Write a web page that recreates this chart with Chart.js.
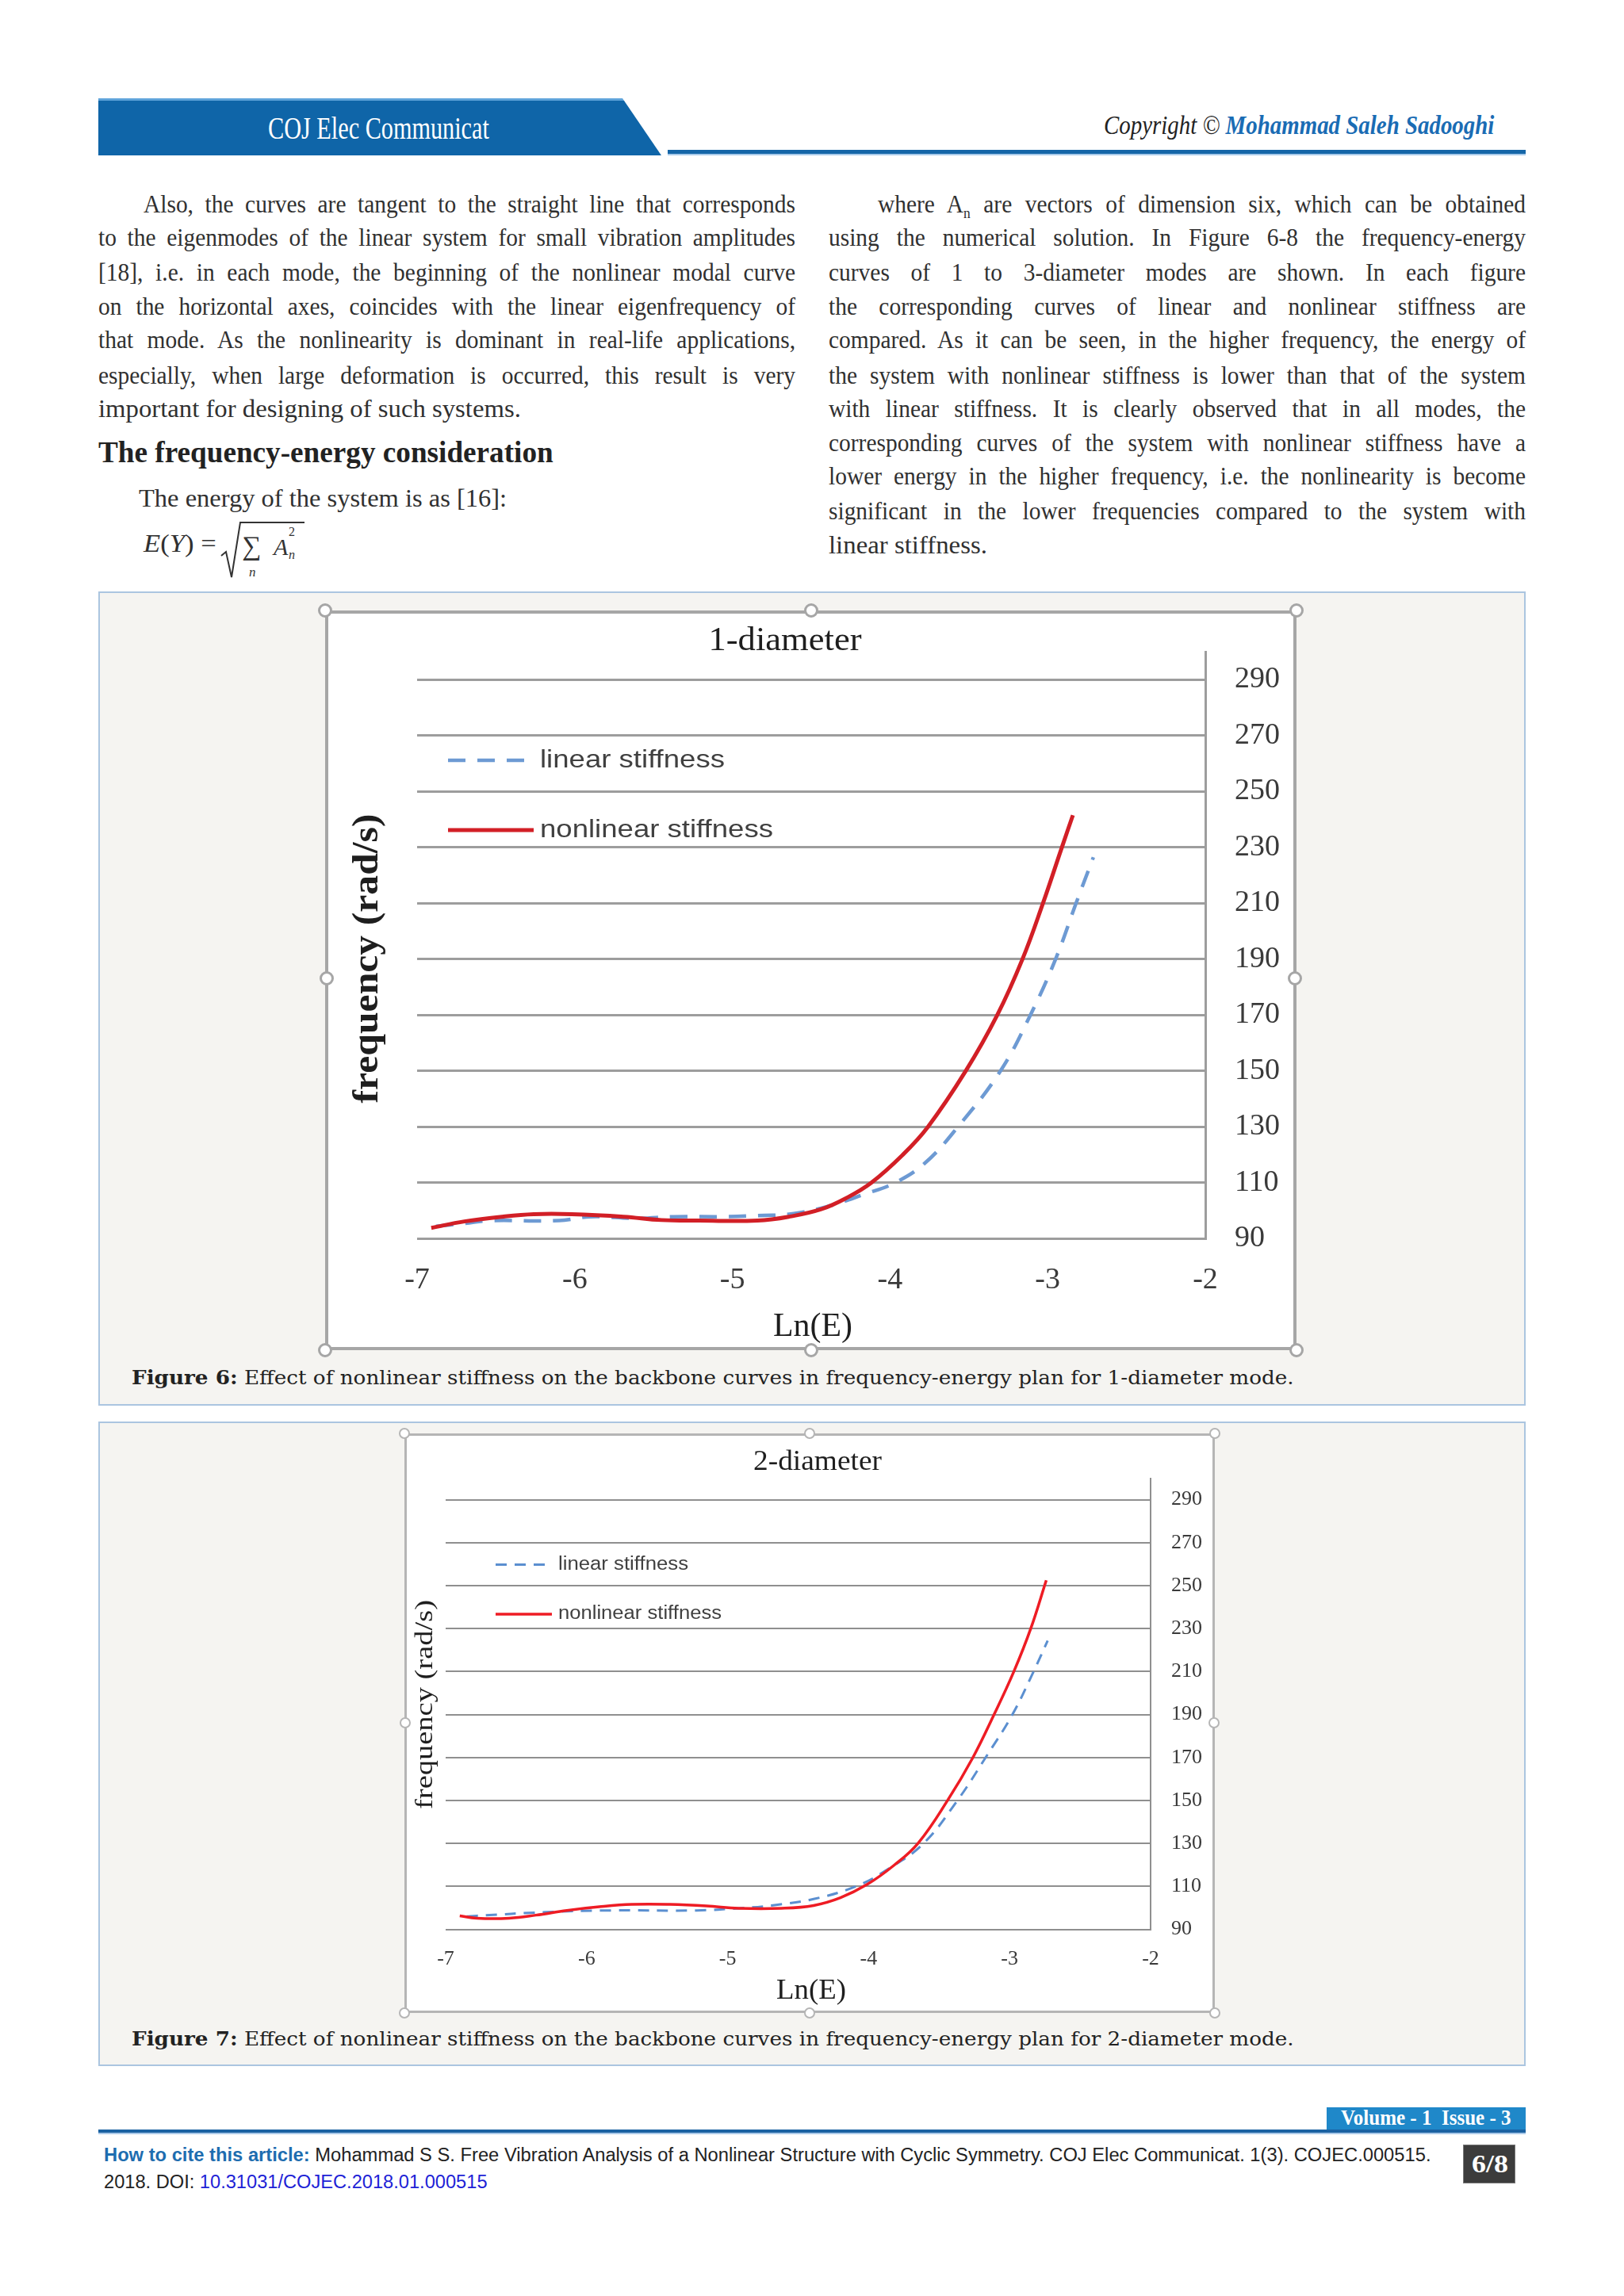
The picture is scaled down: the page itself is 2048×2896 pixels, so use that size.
<!DOCTYPE html>
<html>
<head>
<meta charset="utf-8">
<title>Frequency-energy backbone curves</title>
<script src="https://cdn.jsdelivr.net/npm/chart.js@4.4.1/dist/chart.umd.min.js"></script>
<style>
  html, body { margin: 0; padding: 0; background: #fff; }
  #page { position: relative; width: 2048px; height: 2896px; overflow: hidden;
          font-family: "Liberation Serif", serif; color: #303030; }
  .abs { position: absolute; }
  .t { position: absolute; white-space: nowrap; transform-origin: 0 50%;
       transform: translateY(-50%); line-height: 1.15; }
  .j { position: absolute; transform-origin: 0 50%; line-height: 1.15;
       text-align: justify; text-align-last: justify; }
  .body { font-size: 32px; color: #303030; }
  .j sub, .t sub { font-size: 19px; vertical-align: -7px; line-height: 0; }
  .figbox { position: absolute; left: 124px; width: 1800px; box-sizing: border-box;
            border: 2px solid #abc5e0; background: #f5f4f1; }
  .frame { position: absolute; box-sizing: border-box; background: #fff; }
  .handle { position: absolute; border-radius: 50%; background: #fff; box-sizing: border-box; }
  .cap { font-family: "DejaVu Serif", serif; font-size: 24px; color: #222; }
  canvas { position: absolute; }
</style>
</head>
<body>
<div id="page">

  <!-- header -->
  <div class="abs" style="left:124px;top:124px;width:712px;height:72px;
       background:linear-gradient(to bottom,#5ea3da 0,#5ea3da 3px,#0f65a8 3px);
       clip-path:polygon(0 0,661px 0,710px 100%,0 100%);"></div>
  <div class="t fit" data-w="279" style="left:338px;top:162px;font-size:40px;color:#fff;">COJ Elec Communicat</div>
  <div class="t fit" data-w="492" style="left:1392px;top:159px;font-size:33px;color:#222;font-style:italic;">Copyright © <b style="color:#1a6cb4;">Mohammad Saleh Sadooghi</b></div>
  <div class="abs" style="left:842px;top:189px;width:1082px;height:5px;background:#1566a8;"></div>
  <div class="abs" style="left:842px;top:194px;width:1082px;height:2px;background:#a9cbea;"></div>

  <!-- left column -->
  <div class="j body" data-w="822" style="left:181px;top:257px;">Also, the curves are tangent to the straight line that corresponds</div>
  <div class="j body" data-w="879" style="left:124px;top:299px;">to the eigenmodes of the linear system for small vibration amplitudes</div>
  <div class="j body" data-w="879" style="left:124px;top:343px;">[18], i.e. in each mode, the beginning of the nonlinear modal curve</div>
  <div class="j body" data-w="879" style="left:124px;top:386px;">on the horizontal axes, coincides with the linear eigenfrequency of</div>
  <div class="j body" data-w="879" style="left:124px;top:428px;">that mode. As the nonlinearity is dominant in real-life applications,</div>
  <div class="j body" data-w="879" style="left:124px;top:473px;">especially, when large deformation is occurred, this result is very</div>
  <div class="t fit body" data-w="533" style="left:124px;top:515px;">important for designing of such systems.</div>

  <div class="t fit" data-w="574" style="left:124px;top:571px;font-size:37px;font-weight:bold;color:#222;">The frequency-energy consideration</div>
  <div class="t fit body" data-w="464" style="left:175px;top:628px;">The energy of the system is as [16]:</div>

  <!-- formula -->
  <div class="t fit body" data-w="92" style="left:181px;top:685px;"><i>E</i>(<i>Y</i>) =</div>
  <svg class="abs" style="left:276px;top:655px;" width="112" height="80">
    <path d="M3 46 L9 41 L16 73 L27 4 L108 4" stroke="#333" stroke-width="2" fill="none"/>
  </svg>
  <div class="t" style="left:305px;top:689px;font-size:34px;color:#333;">&#8721;</div>
  <div class="t" style="left:314px;top:722px;font-size:17px;font-style:italic;color:#333;">n</div>
  <div class="t" style="left:345px;top:690px;font-size:30px;font-style:italic;color:#333;">A</div>
  <div class="t" style="left:364px;top:671px;font-size:16px;color:#333;">2</div>
  <div class="t" style="left:364px;top:700px;font-size:16px;font-style:italic;color:#333;">n</div>

  <!-- right column -->
  <div class="j body" data-w="817" style="left:1107px;top:257px;">where A<sub>n</sub> are vectors of dimension six, which can be obtained</div>
  <div class="j body" data-w="879" style="left:1045px;top:299px;">using the numerical solution. In Figure 6-8 the frequency-energy</div>
  <div class="j body" data-w="879" style="left:1045px;top:343px;">curves of 1 to 3-diameter modes are shown. In each figure</div>
  <div class="j body" data-w="879" style="left:1045px;top:386px;">the corresponding curves of linear and nonlinear stiffness are</div>
  <div class="j body" data-w="879" style="left:1045px;top:428px;">compared. As it can be seen, in the higher frequency, the energy of</div>
  <div class="j body" data-w="879" style="left:1045px;top:473px;">the system with nonlinear stiffness is lower than that of the system</div>
  <div class="j body" data-w="879" style="left:1045px;top:515px;">with linear stiffness. It is clearly observed that in all modes, the</div>
  <div class="j body" data-w="879" style="left:1045px;top:558px;">corresponding curves of the system with nonlinear stiffness have a</div>
  <div class="j body" data-w="879" style="left:1045px;top:600px;">lower energy in the higher frequency, i.e. the nonlinearity is become</div>
  <div class="j body" data-w="879" style="left:1045px;top:644px;">significant in the lower frequencies compared to the system with</div>
  <div class="t fit body" data-w="200" style="left:1045px;top:687px;">linear stiffness.</div>

  <!-- figure 6 -->
  <div class="figbox" style="top:746px;height:1027px;"></div>
  <div class="frame" style="left:410px;top:770px;width:1225px;height:933px;border:4px solid #a6a6a6;"></div>
  <canvas id="chart1" width="1217" height="925" style="left:414px;top:774px;width:1217px;height:925px;"></canvas>
  <div id="handles1"></div>
  <div class="t fit cap" data-w="1466" style="left:166px;top:1738px;"><b>Figure 6:</b> Effect of nonlinear stiffness on the backbone curves in frequency-energy plan for 1-diameter mode.</div>

  <!-- figure 7 -->
  <div class="figbox" style="top:1793px;height:813px;"></div>
  <div class="frame" style="left:510px;top:1808px;width:1022px;height:731px;border:3px solid #b5b5b5;"></div>
  <canvas id="chart2" width="1016" height="725" style="left:513px;top:1811px;width:1016px;height:725px;"></canvas>
  <div id="handles2"></div>
  <div class="t fit cap" data-w="1466" style="left:166px;top:2572px;"><b>Figure 7:</b> Effect of nonlinear stiffness on the backbone curves in frequency-energy plan for 2-diameter mode.</div>

  <!-- footer -->
  <div class="abs" style="left:1673px;top:2658px;width:251px;height:28px;background:#1f88c9;"></div>
  <div class="t fit" data-w="215" style="left:1691px;top:2672px;font-size:27px;font-weight:bold;color:#fff;">Volume - 1&nbsp; Issue - 3</div>
  <div class="abs" style="left:124px;top:2686px;width:1800px;height:4px;background:#1b62a2;"></div>
  <div class="abs" style="left:124px;top:2690px;width:1800px;height:2px;background:#aac9e8;"></div>
  <div class="t fit" data-w="1673" style="left:131px;top:2718px;font-family:'Liberation Sans',sans-serif;font-size:23px;color:#222;"><b style="color:#1e6db0;">How to cite this article:</b> Mohammad S S. Free Vibration Analysis of a Nonlinear Structure with Cyclic Symmetry. COJ Elec Communicat. 1(3). COJEC.000515.</div>
  <div class="t fit" data-w="484" style="left:131px;top:2752px;font-family:'Liberation Sans',sans-serif;font-size:23px;color:#222;">2018. DOI: <span style="color:#1d22d6;">10.31031/COJEC.2018.01.000515</span></div>
  <div class="abs" style="left:1845px;top:2705px;width:66px;height:49px;background:#3c3c3c;box-sizing:border-box;border:1px solid #777;"></div>
  <div class="t fit" data-w="46" style="left:1856px;top:2729px;font-size:32px;font-weight:bold;color:#fff;">6/8</div>
</div>

<script>
// ---- data ----
const xMin = -7;
const xMax = -2;
const yMin = 90;
const yMax = 300;
const yTicks = [90, 110, 130, 150, 170, 190, 210, 230, 250, 270, 290];
const seriesNames = ['linear stiffness', 'nonlinear stiffness'];

// Figure 6, 1-diameter
const linear1X = [-6.88, -6.70, -6.54, -6.10, -5.90, -5.61, -5.37, -5.05, -4.80, -4.64, -4.40, -4.16, -3.97, -3.78, -3.57, -3.30, -3.11, -2.95, -2.82, -2.71];
const linear1Y = [94.5, 95.5, 96.5, 96.5, 97.9, 97.3, 97.9, 97.9, 98.4, 98.8, 101.5, 106, 110, 117, 130, 150, 170, 190, 210, 226.5];
const nonlinear1X = [-6.91, -6.70, -6.46, -6.26, -6.02, -5.69, -5.45, -5.21, -4.84, -4.64, -4.44, -4.28, -4.12, -3.92, -3.76, -3.52, -3.32, -3.16, -3.03, -2.91, -2.84];
const nonlinear1Y = [93.9, 96.2, 97.9, 98.8, 98.8, 97.9, 96.7, 96.5, 96.5, 97.9, 100.5, 104.5, 110, 120, 130, 150, 170, 190, 210, 230, 241.5];

// Figure 7, 2-diameter
const linear2X = [-6.85, -6.78, -6.29, -5.83, -5.22, -4.92, -4.69, -4.39, -4.09, -3.86, -3.61, -3.37, -3.17, -2.98, -2.83, -2.73];
const linear2Y = [96.0, 96.3, 98.0, 98.8, 98.8, 99.8, 101.1, 104.1, 110.0, 118.1, 130, 150, 170, 190, 210, 224.4];
const nonlinear2X = [-6.90, -6.78, -6.55, -6.36, -6.14, -5.91, -5.68, -5.41, -5.15, -4.92, -4.62, -4.39, -4.20, -4.01, -3.82, -3.65, -3.44, -3.26, -3.11, -2.97, -2.85, -2.74];
const nonlinear2Y = [96.3, 95.2, 95.2, 96.6, 98.8, 100.5, 101.6, 101.6, 100.9, 99.8, 99.8, 101.1, 104.7, 110.9, 119.8, 130, 150, 170, 190, 210, 230, 252.5];

// ---- layout and style of each chart (canvas pixels) ----
const style1 = {
  title: '1-diameter',
  pad: { left: 112, top: 48, right: 0, bottom: 0 },
  yAxisWidth: 111, xAxisHeight: 136.5, yTickPad: 37, xTickPad: 22, tickFont: 38,
  grid: '#9d9d9d', gridWidth: 3,
  blue: '#6d9ad3', blueWidth: 4.5, dash: [22, 15],
  red: '#d21f26', redWidth: 5,
  titlePos: { x: 576, y: 35, w: 193, font: '42px "Liberation Serif"' },
  yTitlePos: { x: 50, y: 435, w: 365, font: 'bold 46px "Liberation Serif"' },
  xTitlePos: { x: 611, y: 900, w: 100, font: '42px "Liberation Serif"' },
  legendFont: '32px "Liberation Sans"',
  legend: [ { x0: 151, x1: 259, y: 185, tx: 267, tw: 233 },
            { x0: 151, x1: 259, y: 273, tx: 267, tw: 294 } ]
};
const style2 = {
  title: '2-diameter',
  pad: { left: 49, top: 53.5, right: 0, bottom: 0 },
  yAxisWidth: 78, xAxisHeight: 102.5, yTickPad: 26, xTickPad: 14, tickFont: 26,
  grid: '#8f8f8f', gridWidth: 2,
  blue: '#5b8fd0', blueWidth: 3, dash: [14, 10],
  red: '#ee1c24', redWidth: 3.5,
  titlePos: { x: 518, y: 34, w: 162, font: '36px "Liberation Serif"' },
  yTitlePos: { x: 24, y: 339, w: 264, font: '32px "Liberation Serif"' },
  xTitlePos: { x: 510, y: 701, w: 88, font: '36px "Liberation Serif"' },
  legendFont: '23px "Liberation Sans"',
  legend: [ { x0: 112, x1: 183, y: 162.5, tx: 191, tw: 164 },
            { x0: 112, x1: 183, y: 225, tx: 191, tw: 206 } ]
};

function fitText(ctx, text, x, y, w, font, color, align, rot) {
  ctx.save();
  ctx.font = font;
  ctx.fillStyle = color;
  ctx.textBaseline = 'middle';
  ctx.textAlign = align;
  const m = ctx.measureText(text).width;
  ctx.translate(x, y);
  if (rot) ctx.rotate(rot);
  ctx.scale(w / m, 1);
  ctx.fillText(text, 0, 0);
  ctx.restore();
}

// titles and in-plot legend, drawn in the Excel style of the source
const decorPlugin = {
  id: 'decor',
  afterDraw(chart) {
    const s = chart.config.options.plugins.decor.style;
    const ctx = chart.ctx;
    fitText(ctx, s.title, s.titlePos.x, s.titlePos.y, s.titlePos.w, s.titlePos.font, '#1e1e1e', 'center', 0);
    fitText(ctx, 'frequency (rad/s)', s.yTitlePos.x, s.yTitlePos.y, s.yTitlePos.w, s.yTitlePos.font, '#1e1e1e', 'center', -Math.PI / 2);
    fitText(ctx, 'Ln(E)', s.xTitlePos.x, s.xTitlePos.y, s.xTitlePos.w, s.xTitlePos.font, '#1e1e1e', 'center', 0);
    chart.data.datasets.forEach((ds, i) => {
      const row = s.legend[i];
      ctx.save();
      ctx.strokeStyle = ds.borderColor;
      ctx.lineWidth = ds.borderWidth;
      ctx.setLineDash(ds.borderDash || []);
      ctx.beginPath();
      ctx.moveTo(row.x0, row.y);
      ctx.lineTo(row.x1, row.y);
      ctx.stroke();
      ctx.restore();
      fitText(ctx, ds.label, row.tx, row.y, row.tw, s.legendFont, '#404040', 'left', 0);
    });
  }
};

function toPoints(xs, ys) {
  return xs.map((x, i) => ({ x: x, y: ys[i] }));
}

function makeChart(id, s, linX, linY, nonX, nonY) {
  const ctx = document.getElementById(id).getContext('2d');
  return new Chart(ctx, {
    type: 'line',
    data: {
      datasets: [
        {
          label: seriesNames[0],
          data: toPoints(linX, linY),
          borderColor: s.blue,
          borderWidth: s.blueWidth,
          borderDash: s.dash,
          pointRadius: 0,
          tension: 0.4,
          fill: false,
          order: 2
        },
        {
          label: seriesNames[1],
          data: toPoints(nonX, nonY),
          borderColor: s.red,
          borderWidth: s.redWidth,
          pointRadius: 0,
          tension: 0.4,
          fill: false,
          order: 1
        }
      ]
    },
    options: {
      responsive: false,
      animation: false,
      devicePixelRatio: 1,
      layout: { padding: s.pad },
      plugins: {
        legend: { display: false },
        title: { display: false },
        tooltip: { enabled: false },
        decor: { style: s }
      },
      scales: {
        x: {
          type: 'linear',
          min: xMin,
          max: xMax,
          grid: { display: false },
          border: { display: false },
          ticks: {
            stepSize: 1,
            autoSkip: false,
            maxRotation: 0,
            padding: s.xTickPad,
            color: '#3a3a3a',
            font: { family: '"Liberation Serif"', size: s.tickFont }
          },
          afterFit: (axis) => {
            axis.height = s.xAxisHeight;
            axis.paddingLeft = 0;
            axis.paddingRight = 0;
          }
        },
        y: {
          type: 'linear',
          position: 'right',
          min: yMin,
          max: yMax,
          grid: { color: s.grid, lineWidth: s.gridWidth, drawTicks: false },
          border: { display: true, color: s.grid, width: s.gridWidth },
          ticks: {
            autoSkip: false,
            padding: s.yTickPad,
            color: '#3a3a3a',
            font: { family: '"Liberation Serif"', size: s.tickFont }
          },
          afterBuildTicks: (axis) => { axis.ticks = yTicks.map(v => ({ value: v })); },
          afterFit: (axis) => {
            axis.width = s.yAxisWidth;
            axis.paddingTop = 0;
            axis.paddingBottom = 0;
          }
        }
      }
    },
    plugins: [decorPlugin]
  });
}

// Excel selection handles round each chart frame
function addHandles(id, pts, size, border) {
  const box = document.getElementById(id);
  pts.forEach(p => {
    const h = document.createElement('div');
    h.className = 'handle';
    h.style.left = (p[0] - size / 2) + 'px';
    h.style.top = (p[1] - size / 2) + 'px';
    h.style.width = size + 'px';
    h.style.height = size + 'px';
    h.style.border = border;
    box.appendChild(h);
  });
}

function layoutText() {
  document.querySelectorAll('.j').forEach(el => {
    const T = +el.dataset.w;
    el.style.whiteSpace = 'nowrap';
    el.style.width = 'max-content';
    const nat = el.offsetWidth;
    const sc = Math.min(0.92, T / (nat + 3));
    el.style.whiteSpace = 'normal';
    el.style.width = (T / sc) + 'px';
    el.style.transform = 'translateY(-50%) scaleX(' + sc + ')';
  });
  document.querySelectorAll('.fit').forEach(el => {
    const T = +el.dataset.w;
    const nat = el.offsetWidth;
    el.style.transform = 'translateY(-50%) scaleX(' + (T / nat) + ')';
  });
}

document.addEventListener('DOMContentLoaded', () => {
  layoutText();
  makeChart('chart1', style1, linear1X, linear1Y, nonlinear1X, nonlinear1Y);
  makeChart('chart2', style2, linear2X, linear2Y, nonlinear2X, nonlinear2Y);
  addHandles('handles1', [[410, 770], [1023, 770], [1635, 770], [412, 1234], [1633, 1234], [410, 1703], [1023, 1703], [1635, 1703]], 18, '3px solid #a6a6a6');
  addHandles('handles2', [[510, 1808], [1021, 1808], [1532, 1808], [511, 2173], [1531, 2173], [510, 2539], [1021, 2539], [1532, 2539]], 14, '2px solid #b5b5b5');
});
</script>
</body>
</html>
